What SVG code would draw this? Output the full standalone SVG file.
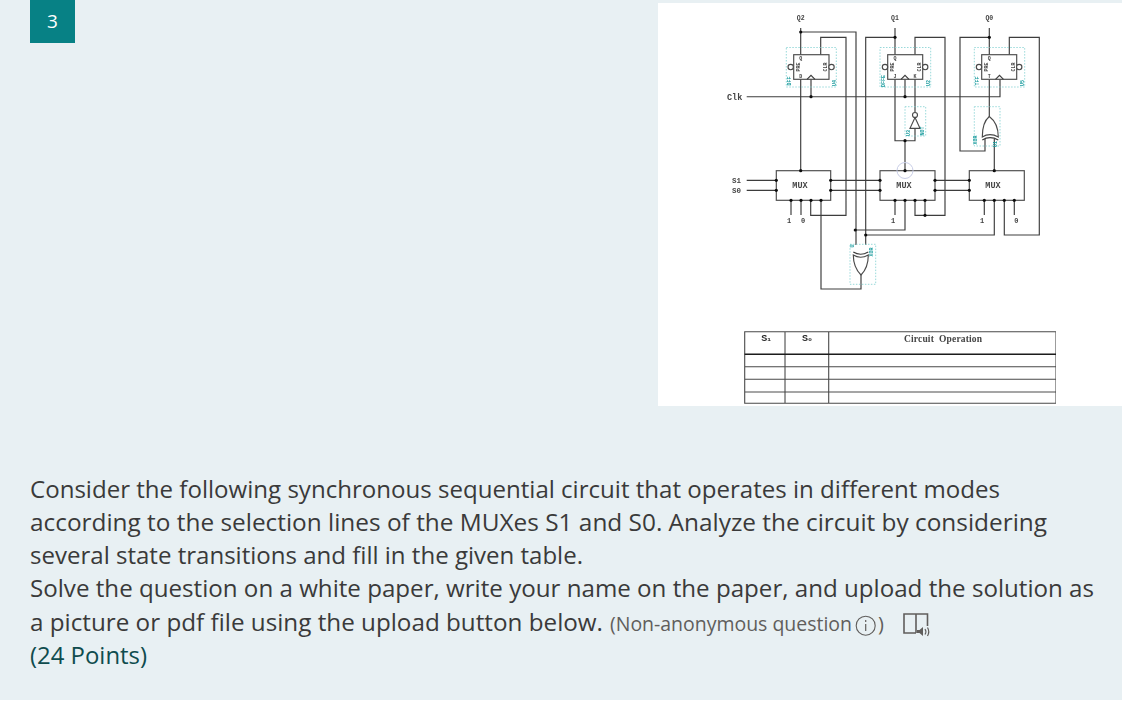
<svg xmlns="http://www.w3.org/2000/svg" width="1122" height="702" viewBox="0 0 1122 702">
<style>
.w{fill:none;stroke:#3c3c3c;stroke-width:1.150}
.b{fill:#fff;stroke:#4a4a4a;stroke-width:1.150}
.box{fill:none;stroke:#7fcfd0;stroke-width:.8;stroke-dasharray:1.5 1.5}
.d{fill:#111}
.m{font-family:"Liberation Mono",monospace;fill:#444;font-weight:bold}
.c{font-family:"Liberation Mono",monospace;font-size:5px;fill:#1f9ea0;font-weight:bold}
.p{font-family:"Liberation Mono",monospace;font-size:5px;fill:#444;font-weight:bold}
.t{font-family:"Open Sans","Noto Sans",sans-serif;font-size:24px;fill:#3a3a3a}
.tb{fill:none;stroke:#4a4a4a;stroke-width:1.100}
</style>
<defs>
<filter id="soft" x="0" y="0" width="100%" height="100%"><feGaussianBlur stdDeviation="0.3"/></filter>
</defs>
<rect width="1122" height="702" fill="#e8f0f3"/>
<rect y="700" width="1122" height="2" fill="#fff"/>
<g id="badge"><rect x="30" y="0" width="45" height="43" fill="#078185"/><text x="52.500" y="28" text-anchor="middle" font-family="Open Sans,sans-serif" font-size="19" fill="#fff">3</text></g>
<rect id="picture" x="658" y="3" width="464" height="403" fill="#fff"/>
<g filter="url(#soft)">
<g id="connectors">
<path class="w" d="M800.700 28V170.700M800.700 32H856V245M820.700 54.700V37.300H846V215.300H810.700V200.300"/>
<path class="w" d="M895 28V79.300M895 37.300H865.700V245M915 54.700V37.300H945V215.300H915V200.300M925 200.300V215.300"/>
<path class="w" d="M989.300 28V117M989.300 37.300H960V151H985V139M1009.300 54.700V37.300H1039.300V235H1004.300V200.300"/>
<path class="w" d="M746.700 96.700H1000V79.300M811 96.700V79.300M905 96.700V79.300"/>
<path class="w" d="M895 79.300V140.700H915V128M915 112V79.300M905 140.700V170.700M994.300 139V170.700"/>
<path class="w" d="M746.700 180.300H776.300M746.700 190.300H776.300M830.700 180.300H880M830.700 190.300H880M935 180.300H969.300M935 190.300H969.300"/>
<path class="w" d="M791 200.300V215M801 200.300V215M821 200.300V289H861V275M895 200.300V215M905 200.300V230H855.300M984.300 200.300V215M994.300 200.300V235H865.700M1014.300 200.300V215"/>
<g class="d">
<circle cx="800.700" cy="32" r="1.600"/><circle cx="895" cy="37.300" r="1.600"/><circle cx="989.300" cy="37.300" r="1.600"/>
<circle cx="811" cy="96.700" r="1.600"/><circle cx="905" cy="96.700" r="1.600"/><circle cx="905" cy="140.700" r="1.600"/>
<circle cx="855.300" cy="230" r="1.600"/><circle cx="865.700" cy="235" r="1.600"/><circle cx="925" cy="215.300" r="1.600"/>
</g>
</g>
<g id="clk-labels">
<text class="m" x="727" y="99.500" font-size="8.500">Clk</text>
<text class="m" x="732" y="183" font-size="7.500">S1</text>
<text class="m" x="732" y="193" font-size="7.500">S0</text>
<text class="m" x="800.700" y="20" font-size="6.500" text-anchor="middle">Q2</text>
<text class="m" x="895" y="20" font-size="6.500" text-anchor="middle">Q1</text>
<text class="m" x="989.300" y="20" font-size="6.500" text-anchor="middle">Q0</text>
</g>
<g id="ff2">
<rect class="box" x="786.300" y="47.500" width="50" height="39.500"/>
<rect class="b" x="793.700" y="54.700" width="35.300" height="24.600"/>
<circle class="b" cx="790.700" cy="67" r="2.700"/><circle class="b" cx="831.500" cy="67" r="2.700"/>
<path class="w" d="M807 79.300L811 75.300L815 79.300"/>
<text class="p" x="800.700" y="60" text-anchor="middle">Q</text><text class="p" x="800.700" y="78" text-anchor="middle">D</text>
<text class="p" transform="translate(800 67) rotate(-90)" text-anchor="middle">PRE</text><text class="p" transform="translate(827 67) rotate(-90)" text-anchor="middle">CLR</text>
<text class="c" transform="translate(791 81) rotate(-90)" text-anchor="middle">DFF</text><text class="c" transform="translate(836 83) rotate(-90)" text-anchor="middle">U4</text>
</g>
<g id="ff1">
<rect class="box" x="880" y="47.500" width="50.700" height="39.500"/>
<rect class="b" x="887.700" y="54.700" width="35" height="24.600"/>
<circle class="b" cx="885" cy="67" r="2.700"/><circle class="b" cx="925.200" cy="67" r="2.700"/>
<path class="w" d="M901 79.300L905 75.300L909 79.300"/>
<text class="p" x="895" y="60" text-anchor="middle">Q</text><text class="p" x="895" y="78" text-anchor="middle">J</text><text class="p" x="915" y="78" text-anchor="middle">K</text>
<text class="p" transform="translate(894 67) rotate(-90)" text-anchor="middle">PRE</text><text class="p" transform="translate(921 67) rotate(-90)" text-anchor="middle">CLR</text>
<text class="c" transform="translate(885 81) rotate(-90)" text-anchor="middle">DFFE</text><text class="c" transform="translate(930 83) rotate(-90)" text-anchor="middle">U2</text>
</g>
<g id="ff0">
<rect class="box" x="974.300" y="47.500" width="50.400" height="39.500"/>
<rect class="b" x="981.700" y="54.700" width="35" height="24.600"/>
<circle class="b" cx="979" cy="67" r="2.700"/><circle class="b" cx="1019.200" cy="67" r="2.700"/>
<path class="w" d="M995.500 79.300L999.500 75.300L1003.500 79.300"/>
<text class="p" x="989.300" y="60" text-anchor="middle">Q</text><text class="p" x="989.300" y="78" text-anchor="middle">T</text>
<text class="p" transform="translate(988 67) rotate(-90)" text-anchor="middle">PRE</text><text class="p" transform="translate(1015 67) rotate(-90)" text-anchor="middle">CLR</text>
<text class="c" transform="translate(979 81) rotate(-90)" text-anchor="middle">TFF</text><text class="c" transform="translate(1024 83) rotate(-90)" text-anchor="middle">U5</text>
</g>
<g id="not">
<rect class="box" x="905" y="106.700" width="20.700" height="29.300"/>
<circle class="b" cx="915" cy="115" r="2.500"/>
<path class="b" d="M915 117.500L920 128.300H910Z"/>
<text class="c" transform="translate(909.500 133) rotate(-90)" text-anchor="middle">U3</text><text class="c" transform="translate(924 131) rotate(-90)" text-anchor="middle">NOT</text>
</g>
<g id="xor0">
<rect class="box" x="974.300" y="106.700" width="25.700" height="39.300"/>
<path class="b" d="M989.300 116.500C985 120 982.300 125 982.300 137C987 134 993 134 998.300 137C998.300 125 994 120 989.300 116.500Z"/>
<path class="w" d="M982.300 140C987 137 993 137 998.300 140"/>
<text class="c" transform="translate(977 140) rotate(-90)" text-anchor="middle">XOR</text><text class="c" transform="translate(997 144) rotate(-90)" text-anchor="middle">U1</text>
</g>
<g id="xor1">
<rect class="box" x="850" y="244.300" width="25.700" height="40"/>
<path class="b" d="M861 275C865 271 868.300 265 868.300 255C863 258 858 258 853.300 255C853.300 265 857 271 861 275Z"/>
<path class="w" d="M853.300 252C858 255 863 255 868.300 252"/>
<text class="c" transform="translate(854 246) rotate(-90)" text-anchor="middle">U</text><text class="c" transform="translate(873 252) rotate(-90)" text-anchor="middle">XOR</text>
</g>
<g id="mux2"><rect class="b" x="776.300" y="170.700" width="54.400" height="29.600"/><text class="m" x="800" y="188" font-size="8.500" text-anchor="middle">MUX</text></g>
<g id="mux1"><rect class="b" x="880" y="170.700" width="55" height="29.600"/><text class="m" x="904" y="188" font-size="8.500" text-anchor="middle">MUX</text></g>
<g id="mux0"><rect class="b" x="969.300" y="170.700" width="55" height="29.600"/><text class="m" x="993" y="188" font-size="8.500" text-anchor="middle">MUX</text></g>
<circle cx="905" cy="170.500" r="8" fill="none" stroke="#c8cde6" stroke-width="1"/>
<g class="d">
<circle cx="776.300" cy="180.300" r="1.600"/><circle cx="776.300" cy="190.300" r="1.600"/><circle cx="830.700" cy="180.300" r="1.600"/><circle cx="830.700" cy="190.300" r="1.600"/>
<circle cx="880" cy="180.300" r="1.600"/><circle cx="880" cy="190.300" r="1.600"/><circle cx="935" cy="180.300" r="1.600"/><circle cx="935" cy="190.300" r="1.600"/>
<circle cx="969.300" cy="180.300" r="1.600"/><circle cx="969.300" cy="190.300" r="1.600"/>
<circle cx="800.700" cy="170.700" r="1.600"/><circle cx="905" cy="170.700" r="1.600"/><circle cx="994.300" cy="170.700" r="1.600"/>
<circle cx="791" cy="200.300" r="1.600"/><circle cx="801" cy="200.300" r="1.600"/><circle cx="811" cy="200.300" r="1.600"/><circle cx="821" cy="200.300" r="1.600"/>
<circle cx="895" cy="200.300" r="1.600"/><circle cx="905" cy="200.300" r="1.600"/><circle cx="915" cy="200.300" r="1.600"/><circle cx="925" cy="200.300" r="1.600"/>
<circle cx="984.300" cy="200.300" r="1.600"/><circle cx="994.300" cy="200.300" r="1.600"/><circle cx="1004.300" cy="200.300" r="1.600"/><circle cx="1014.300" cy="200.300" r="1.600"/>
</g>
<g id="pin-labels" class="m" font-size="7" text-anchor="middle">
<text x="789" y="222.500">1</text><text x="803" y="222.500">0</text><text x="893" y="222.500">1</text><text x="982" y="222.500">1</text><text x="1016.300" y="222.500">0</text>
</g>
<g id="table">
<path class="tb" d="M744.700 331.700H1056V403.300H744.700ZM785 331.700V403.300M828.700 331.700V403.300M744.700 366.700H1056M744.700 379.300H1056M744.700 392H1056"/>
<path d="M744.700 354.300H1056" stroke="#1a1a1a" stroke-width="1.400"/>
<text x="766" y="341" font-family="Liberation Sans,sans-serif" font-weight="bold" font-size="9" fill="#222" text-anchor="middle">S₁</text>
<text x="807" y="341" font-family="Liberation Sans,sans-serif" font-weight="bold" font-size="9" fill="#222" text-anchor="middle">S₀</text>
<text x="943" y="341.500" font-family="Liberation Serif,serif" font-weight="bold" font-size="9.500" fill="#444" text-anchor="middle" textLength="78" xml:space="preserve">Circuit  Operation</text>
</g>
</g>
<g id="question">
<text class="t" x="30" y="498" textLength="970" lengthAdjust="spacingAndGlyphs">Consider the following synchronous sequential circuit that operates in different modes</text>
<text class="t" x="30" y="531" textLength="1017" lengthAdjust="spacingAndGlyphs">according to the selection lines of the MUXes S1 and S0. Analyze the circuit by considering</text>
<text class="t" x="30" y="563.500" textLength="553" lengthAdjust="spacingAndGlyphs">several state transitions and fill in the given table.</text>
<text class="t" x="30" y="597" textLength="1064" lengthAdjust="spacingAndGlyphs">Solve the question on a white paper, write your name on the paper, and upload the solution as</text>
<text class="t" x="30" y="630.500" textLength="573" lengthAdjust="spacingAndGlyphs">a picture or pdf file using the upload button below.</text>
<text x="610" y="631" font-family="Open Sans,sans-serif" font-size="20" fill="#605e5c" textLength="242" lengthAdjust="spacingAndGlyphs">(Non-anonymous question</text>
<g id="info" fill="none" stroke="#605e5c"><circle cx="865.700" cy="625.700" r="9.500" stroke-width="1.100"/><path d="M865.700 624V631M865.700 620V622" stroke-width="1.200"/></g>
<text x="878" y="631" font-family="Open Sans,sans-serif" font-size="20" fill="#605e5c">)</text>
<g id="reader" fill="none" stroke="#605e5c" stroke-width="1.600"><path d="M916 633H904V614H916V633M916 614H927.500V626"/><path d="M917 630H919.500L923 627V636L919.500 633H917Z" fill="#605e5c" stroke="none"/><path d="M925 629Q926.800 631.500 925 634.500M927.500 627.500Q930 631.500 927.500 636" stroke-width="1.200"/></g>
<text x="30" y="664" font-family="Open Sans,sans-serif" font-size="24" fill="#0f4c4e" textLength="117" lengthAdjust="spacingAndGlyphs">(24 Points)</text>
</g>
</svg>
